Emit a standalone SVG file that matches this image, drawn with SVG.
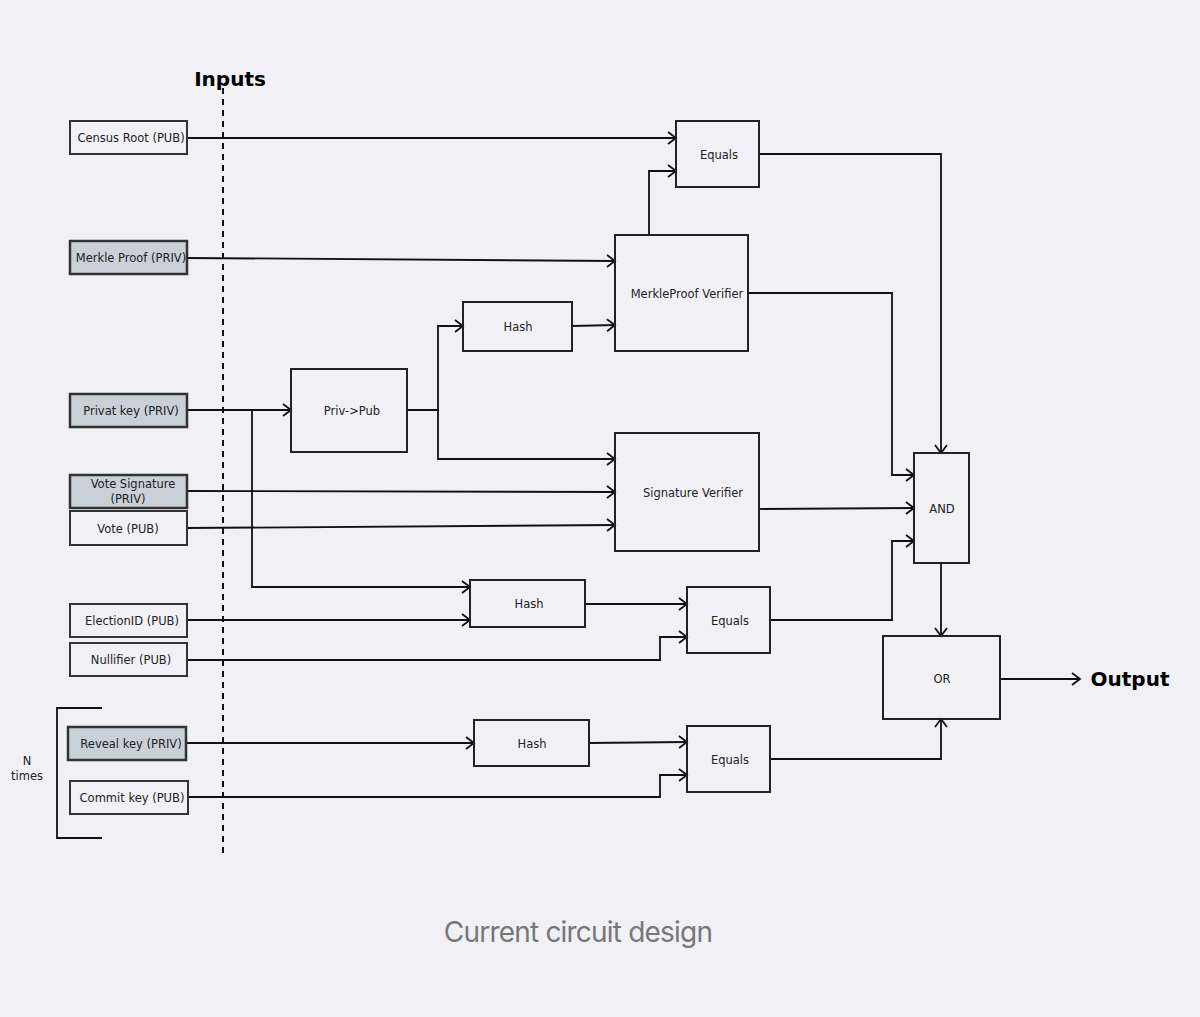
<svg xmlns="http://www.w3.org/2000/svg" width="1200" height="1017" viewBox="0 0 1200 1017">
<style>
.n{fill:none;stroke:#222;stroke-width:2}
.g{fill:#c9d0d6;stroke:#333;stroke-width:2.5}
.w{fill:none;stroke:#333;stroke-width:2}
.t{font-family:"DejaVu Sans",sans-serif;font-size:11.5px;fill:#222;text-anchor:middle;dominant-baseline:middle}
.c{fill:none;stroke:#111;stroke-width:1.8}
.b{font-family:"DejaVu Sans",sans-serif;font-weight:bold;font-size:20px;fill:#000}
</style>
<defs>
<marker id="a" markerWidth="12" markerHeight="14" refX="10" refY="7" orient="auto" markerUnits="userSpaceOnUse">
<path d="M2,1 L10,7 L2,13" fill="none" stroke="#111" stroke-width="1.8"/>
</marker>
</defs>
<rect width="1200" height="1017" fill="#f1f1f5"/>
<line x1="223" y1="88" x2="223" y2="858" stroke="#111" stroke-width="2" stroke-dasharray="6,5"/>
<text x="230" y="86" class="b" text-anchor="middle" font-size="18">Inputs</text>
<text x="1130" y="686" class="b" text-anchor="middle">Output</text>
<path d="M102,708 H57 V838 H102" class="c"/>
<text x="27" y="761" class="t">N</text>
<text x="27" y="776" class="t">times</text>
<text x="578" y="942" font-family="Inter,sans-serif" font-size="28" fill="#777" text-anchor="middle" letter-spacing="-0.8">Current circuit design</text>

<g id="connectors" class="c">
<path d="M187,138 H676" marker-end="url(#a)"/>
<path d="M187,258 L615,261" marker-end="url(#a)"/>
<path d="M759,154 H941 V453" marker-end="url(#a)"/>
<path d="M649,235 V171 H676" marker-end="url(#a)"/>
<path d="M572,326 L615,325" marker-end="url(#a)"/>
<path d="M748,293 H892 V475 H914" marker-end="url(#a)"/>
<path d="M187,410 H291" marker-end="url(#a)"/>
<path d="M252,410 V587 H470" marker-end="url(#a)"/>
<path d="M407,410 H438 V326 H463" marker-end="url(#a)"/>
<path d="M438,410 V459 H615" marker-end="url(#a)"/>
<path d="M187,491 L615,492" marker-end="url(#a)"/>
<path d="M187,528 L615,525" marker-end="url(#a)"/>
<path d="M759,509 L914,508" marker-end="url(#a)"/>
<path d="M585,604 H687" marker-end="url(#a)"/>
<path d="M187,620 H470" marker-end="url(#a)"/>
<path d="M187,660 H660 V637 H687" marker-end="url(#a)"/>
<path d="M770,620 H892 V541 H914" marker-end="url(#a)"/>
<path d="M941,563 V636" marker-end="url(#a)"/>
<path d="M1000,679 H1080" marker-end="url(#a)"/>
<path d="M186,743 H474" marker-end="url(#a)"/>
<path d="M589,743 L687,742" marker-end="url(#a)"/>
<path d="M188,797 H660 V775 H687" marker-end="url(#a)"/>
<path d="M770,759 H941 V719" marker-end="url(#a)"/>
</g>

<g id="census"><rect x="70" y="121" width="117" height="33" class="w"/><text x="131" y="138" class="t">Census Root (PUB)</text></g>
<g id="merkleproof"><rect x="70" y="241" width="117" height="33" class="g"/><text x="131" y="258" class="t">Merkle Proof (PRIV)</text></g>
<g id="privkey"><rect x="70" y="394" width="117" height="33" class="g"/><text x="131" y="411" class="t">Privat key (PRIV)</text></g>
<g id="votesig"><rect x="70" y="475" width="117" height="33" class="g"/><text x="133" y="484" class="t">Vote Signature</text><text x="128" y="499" class="t">(PRIV)</text></g>
<g id="vote"><rect x="70" y="511" width="117" height="34" class="w"/><text x="128" y="529" class="t">Vote (PUB)</text></g>
<g id="election"><rect x="70" y="604" width="117" height="33" class="w"/><text x="132" y="621" class="t">ElectionID (PUB)</text></g>
<g id="nullifier"><rect x="70" y="643" width="117" height="33" class="w"/><text x="131" y="660" class="t">Nullifier (PUB)</text></g>
<g id="reveal"><rect x="68" y="727" width="118" height="33" class="g"/><text x="131" y="744" class="t">Reveal key (PRIV)</text></g>
<g id="commit"><rect x="70" y="781" width="118" height="33" class="w"/><text x="132" y="798" class="t">Commit key (PUB)</text></g>
<g id="equals1"><rect x="676" y="121" width="83" height="66" class="n"/><text x="719" y="155" class="t">Equals</text></g>
<g id="mpv"><rect x="615" y="235" width="133" height="116" class="n"/><text x="687" y="294" class="t">MerkleProof Verifier</text></g>
<g id="hash1"><rect x="463" y="302" width="109" height="49" class="n"/><text x="518" y="327" class="t">Hash</text></g>
<g id="privpub"><rect x="291" y="369" width="116" height="83" class="n"/><text x="352" y="411" class="t">Priv-&gt;Pub</text></g>
<g id="sigver"><rect x="615" y="433" width="144" height="118" class="n"/><text x="693" y="493" class="t">Signature Verifier</text></g>
<g id="and"><rect x="914" y="453" width="55" height="110" class="n"/><text x="942" y="509" class="t">AND</text></g>
<g id="hash2"><rect x="470" y="580" width="115" height="47" class="n"/><text x="529" y="604" class="t">Hash</text></g>
<g id="equals2"><rect x="687" y="587" width="83" height="66" class="n"/><text x="730" y="621" class="t">Equals</text></g>
<g id="or"><rect x="883" y="636" width="117" height="83" class="n"/><text x="942" y="679" class="t">OR</text></g>
<g id="hash3"><rect x="474" y="720" width="115" height="46" class="n"/><text x="532" y="744" class="t">Hash</text></g>
<g id="equals3"><rect x="687" y="726" width="83" height="66" class="n"/><text x="730" y="760" class="t">Equals</text></g>
</svg>
